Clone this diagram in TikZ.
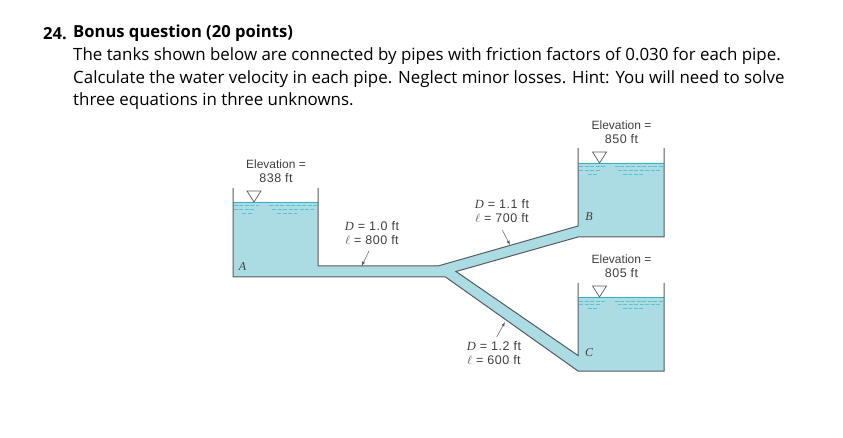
\documentclass[tikz,border=0pt]{standalone}
\usepackage{fontspec}
\setmainfont{Open Sans}
\newfontfamily\figfont{Liberation Sans}
\newfontfamily\figwide{Liberation Sans}[LetterSpace=4]
\newfontfamily\varfont{Liberation Serif}
\definecolor{water}{HTML}{ABDBE3}
\definecolor{surf}{HTML}{35B3C4}
\definecolor{wall}{HTML}{555B60}
\newcommand{\fV}[1]{{\varfont\itshape #1}}
\newcommand{\surface}[3]{
  \draw[surfline] (#1,#2) -- +(85,0);
  \draw[dashline] (#1+0.5,#2+3.7) -- +(25.5,0) (#1+36,#2+3.7) -- +(49,0);
  \draw[dashline] (#1+0.5,#2+7.3) -- +(21.5,0) (#1+39,#2+7.3) -- +(42,0);
  \draw[dashline] (#1+9,#2+11) -- +(10,0) (#1+44,#2+11) -- +(20,0);
  \draw[marker] (#1+14,#2-11) -- (#1+28,#2-11) -- (#1+21,#2) -- cycle;
  \node[elev] at (#1+43,#2-31) {Elevation =\\{\figwide\fontsize{12.5}{14.5}\selectfont #3 ft}};
}
\begin{document}
\begin{tikzpicture}[x=1pt,y=-1pt,
  surfline/.style={surf,line width=0.9pt},
  dashline/.style={surf!80,line width=0.4pt,dash pattern=on 4pt off 1.5pt},
  marker/.style={wall,line width=0.7pt,fill=white},
  pipeline/.style={wall,line width=1pt},
  elev/.style={font=\figfont\fontsize{12}{14.5}\selectfont,align=center,text=black!75,inner sep=0pt},
  pipelabel/.style={font=\figwide\fontsize{12.5}{14.5}\selectfont,align=center,text=black!75,inner sep=0pt},
  tanklabel/.style={font=\varfont\itshape\fontsize{12}{13}\selectfont,text=black!75,inner sep=0pt},
  leader/.style={->,>=latex,wall,line width=0.5pt},
  body/.style={anchor=west,inner sep=0pt,font=\fontsize{16.9}{19}\selectfont},
  head/.style={anchor=west,inner sep=0pt,font=\bfseries\fontsize{16.6}{19}\selectfont}]
  \useasboundingbox (0,0) rectangle (843,438);
  % question text
  \node[head] (num) at (43,33.5) {24.};
  \node[head] (title) at (73,33.5) {Bonus question (20 points)};
  \node[body] (l1) at (73,56.5) {The tanks shown below are connected by pipes with friction factors of 0.030 for each pipe.};
  \node[body] (l2) at (73,79.5) {Calculate the water velocity in each pipe. Neglect minor losses. Hint: You will need to solve};
  \node[body] (l3) at (73,101.5) {three equations in three unknowns.};
  % water
  \fill[water] (233,202) -- (318,202) -- (318,266) -- (438,266) -- (578,226) -- (578,163)
    -- (664,163) -- (664,237) -- (578,237) -- (456,271.5) -- (578,355.5) -- (578,297)
    -- (664,297) -- (664,371) -- (578,371) -- (445.5,277) -- (233,277) -- cycle;
  \surface{233}{202}{838}
  \surface{578.5}{163}{850}
  \surface{578.5}{297}{805}
  % walls
  \draw[pipeline] (233,188) -- (233,277) -- (445.5,277) -- (578,371) -- (664,371) -- (664,283);
  \draw[pipeline] (318,188) -- (318,266) -- (438,266) -- (578,226) -- (578,148);
  \draw[pipeline] (664,148) -- (664,237) -- (578,237) -- (456,271.5) -- (578,355.5) -- (578,283);
  % labels
  \node[tanklabel] (A) at (242.5,267) {A};
  \node[tanklabel] (B) at (589,216.5) {B};
  \node[tanklabel] (C) at (589,353) {C};
  \node[pipelabel] (p1) at (372,233) {\fV{D} = 1.0 ft\\$\ell$ = 800 ft};
  \node[pipelabel] (p2) at (502,211) {\fV{D} = 1.1 ft\\$\ell$ = 700 ft};
  \node[pipelabel] (p3) at (494,353) {\fV{D} = 1.2 ft\\$\ell$ = 600 ft};
  \coordinate (e1) at (361.7,266);
  \coordinate (e2) at (510,245);
  \coordinate (e3) at (505,322);
  \draw[leader] (369,251) -- (e1);
  \draw[leader] (502.3,230) -- (e2);
  \draw[leader] (496.7,337) -- (e3);
\end{tikzpicture}
\end{document}
